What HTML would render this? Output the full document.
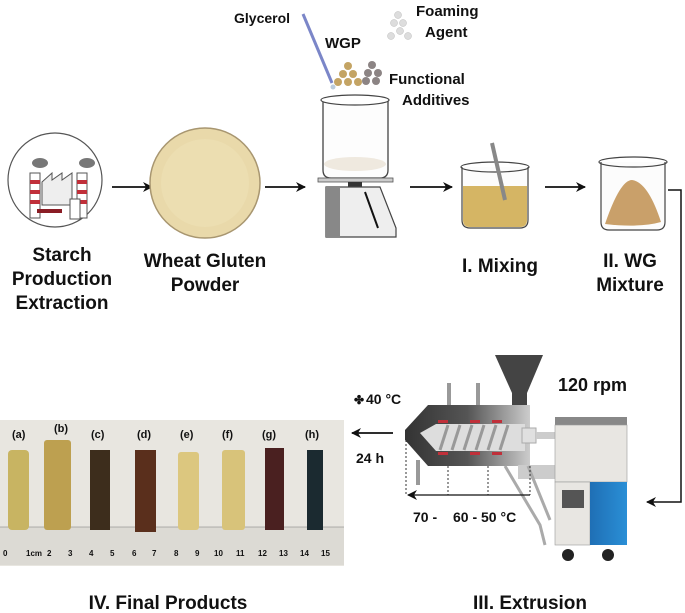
<!DOCTYPE html>
<html><head><meta charset="utf-8"><style>
html,body{margin:0;padding:0;background:#fff}
svg{display:block}
text{font-family:"Liberation Sans",sans-serif;font-weight:bold;fill:#111}
</style></head><body>
<svg width="685" height="613" viewBox="0 0 685 613" xmlns="http://www.w3.org/2000/svg">
<defs>
<marker id="ah" markerWidth="10" markerHeight="10" refX="9" refY="5" orient="auto" markerUnits="userSpaceOnUse"><path d="M0,0 L10,5 L0,10 L3,5 Z" fill="#111"/></marker>
<linearGradient id="barrel" x1="0" y1="0" x2="1" y2="0"><stop offset="0" stop-color="#333"/><stop offset="0.5" stop-color="#555"/><stop offset="1" stop-color="#ccc"/></linearGradient>
<linearGradient id="blue" x1="0" y1="0" x2="1" y2="0"><stop offset="0" stop-color="#1f6fb5"/><stop offset="1" stop-color="#2a8fd6"/></linearGradient>
</defs>

<!-- factory -->
<circle cx="55" cy="180" r="47" fill="#fff" stroke="#555" stroke-width="1.2"/>
<ellipse cx="40" cy="163" rx="8" ry="5" fill="#777"/><ellipse cx="87" cy="163" rx="8" ry="5" fill="#777"/>
<polygon points="42,182 52,173 52,180 62,173 62,180 72,173 72,205 42,205" fill="#eee" stroke="#555"/>
<rect x="30" y="173" width="10" height="45" fill="#fff" stroke="#555"/>
<rect x="30" y="180" width="10" height="4" fill="#c0303a"/><rect x="30" y="190" width="10" height="4" fill="#c0303a"/><rect x="30" y="200" width="10" height="4" fill="#c0303a"/>
<rect x="77" y="173" width="10" height="45" fill="#fff" stroke="#555"/>
<rect x="77" y="180" width="10" height="4" fill="#c0303a"/><rect x="77" y="190" width="10" height="4" fill="#c0303a"/><rect x="77" y="200" width="10" height="4" fill="#c0303a"/>
<rect x="37" y="209" width="25" height="4" fill="#8a1d25"/>
<rect x="70" y="199" width="10" height="20" fill="#fff" stroke="#555"/>

<line x1="112" y1="187" x2="152" y2="187" stroke="#111" stroke-width="1.8" marker-end="url(#ah)"/>

<!-- wheat gluten -->
<circle cx="205" cy="183" r="55" fill="#e9d9aa" stroke="#a89670" stroke-width="1.5"/>
<circle cx="205" cy="183" r="44" fill="#eddfb3" opacity="0.7"/>

<line x1="265" y1="187" x2="305" y2="187" stroke="#111" stroke-width="1.8" marker-end="url(#ah)"/>

<!-- top ingredients -->
<line x1="303" y1="14" x2="332" y2="83" stroke="#7b86c8" stroke-width="3"/>
<circle cx="333" cy="87" r="2.5" fill="#bcd"/>
<g fill="#c4a464"><circle cx="348" cy="66" r="4"/><circle cx="343" cy="74" r="4"/><circle cx="353" cy="74" r="4"/><circle cx="338" cy="82" r="4"/><circle cx="348" cy="82" r="4"/><circle cx="358" cy="82" r="4"/></g>
<g fill="#8c8484"><circle cx="372" cy="65" r="4"/><circle cx="368" cy="73" r="4"/><circle cx="378" cy="73" r="4"/><circle cx="366" cy="81" r="4"/><circle cx="376" cy="81" r="4"/></g>
<g fill="#ddd" stroke="#bbb" stroke-width="0.5"><circle cx="398" cy="15" r="3.5"/><circle cx="394" cy="23" r="3.5"/><circle cx="403" cy="23" r="3.5"/><circle cx="400" cy="31" r="3.5"/><circle cx="391" cy="36" r="3.5"/><circle cx="408" cy="36" r="3.5"/></g>
<text x="234" y="23" font-size="14">Glycerol</text>
<text x="325" y="48" font-size="15">WGP</text>
<text x="416" y="16" font-size="15">Foaming</text>
<text x="425" y="37" font-size="15">Agent</text>
<text x="389" y="84" font-size="15">Functional</text>
<text x="402" y="105" font-size="15">Additives</text>

<!-- beaker on scale -->
<path d="M323,100 L323,170 Q323,178 331,178 L380,178 Q388,178 388,170 L388,100" fill="#fdfdfd" stroke="#444" stroke-width="1.3"/>
<ellipse cx="355" cy="100" rx="34" ry="5" fill="#fff" stroke="#444" stroke-width="1.2"/>
<ellipse cx="355" cy="164" rx="31" ry="7" fill="#efe9df"/>
<rect x="318" y="178" width="75" height="4" fill="#ccc" stroke="#555" stroke-width="0.8"/>
<rect x="348" y="182" width="14" height="5" fill="#333"/>
<path d="M326,187 L380,187 L396,228 L396,237 L326,237 Z" fill="#eee" stroke="#444" stroke-width="1.2"/>
<rect x="326" y="187" width="14" height="50" fill="#888"/>
<line x1="365" y1="192" x2="378" y2="228" stroke="#111" stroke-width="2"/>

<line x1="410" y1="187" x2="452" y2="187" stroke="#111" stroke-width="1.8" marker-end="url(#ah)"/>

<!-- mixing beaker -->
<path d="M462,167 L462,220 Q462,228 470,228 L520,228 Q528,228 528,220 L528,167" fill="#fcfcfc" stroke="#444" stroke-width="1.2"/>
<path d="M463,186 L527,186 L527,220 Q527,227 520,227 L470,227 Q463,227 463,220 Z" fill="#d5b564"/>
<ellipse cx="495" cy="167" rx="34" ry="5" fill="none" stroke="#444" stroke-width="1.2"/>
<line x1="492" y1="143" x2="505" y2="200" stroke="#888" stroke-width="4"/>

<line x1="545" y1="187" x2="585" y2="187" stroke="#111" stroke-width="1.8" marker-end="url(#ah)"/>

<!-- WG mixture beaker -->
<path d="M601,162 L601,222 Q601,230 609,230 L657,230 Q665,230 665,222 L665,162" fill="#fcfcfc" stroke="#444" stroke-width="1.2"/>
<path d="M605,224 Q620,180 632,180 Q648,182 661,222 Q640,228 605,224 Z" fill="#c9a06a"/>
<ellipse cx="633" cy="162" rx="34" ry="5" fill="none" stroke="#444" stroke-width="1.2"/>

<!-- labels -->
<g font-size="19" text-anchor="middle">
<text x="62" y="261">Starch</text>
<text x="62" y="285">Production</text>
<text x="62" y="309">Extraction</text>
<text x="205" y="267">Wheat Gluten</text>
<text x="205" y="291">Powder</text>
<text x="500" y="272">I. Mixing</text>
<text x="630" y="267">II. WG</text>
<text x="630" y="291">Mixture</text>
<text x="168" y="609">IV. Final Products</text>
<text x="530" y="609">III. Extrusion</text>
</g>

<!-- right connector -->
<polyline points="668,190 681,190 681,502 647,502" fill="none" stroke="#111" stroke-width="1.5" marker-end="url(#ah)"/>

<!-- extruder -->
<polygon points="495,355 543,355 527,393 512,393" fill="#444"/>
<rect x="512" y="393" width="15" height="14" fill="#444"/>
<rect x="447" y="383" width="4" height="22" fill="#999"/><rect x="476" y="383" width="4" height="22" fill="#999"/>
<polygon points="428,405 530,405 530,466 428,466 405,440 405,430" fill="url(#barrel)"/>
<polygon points="420,433 436,424 525,424 525,451 436,451" fill="#ddd"/>
<g stroke="#999" stroke-width="3"><line x1="440" y1="450" x2="448" y2="425"/><line x1="452" y1="450" x2="460" y2="425"/><line x1="464" y1="450" x2="472" y2="425"/><line x1="476" y1="450" x2="484" y2="425"/><line x1="488" y1="450" x2="496" y2="425"/><line x1="500" y1="450" x2="508" y2="425"/></g>
<g fill="#c0303a"><rect x="438" y="420" width="10" height="3"/><rect x="470" y="420" width="10" height="3"/><rect x="492" y="420" width="10" height="3"/><rect x="438" y="452" width="10" height="3"/><rect x="470" y="452" width="10" height="3"/><rect x="492" y="452" width="10" height="3"/></g>
<rect x="522" y="428" width="14" height="15" fill="#e0e0e0" stroke="#aaa"/>
<rect x="536" y="432" width="20" height="7" fill="#ccc"/>
<rect x="518" y="465" width="38" height="14" fill="#ccc"/>
<rect x="416" y="460" width="4" height="25" fill="#999"/>
<path d="M505,466 L540,525 L545,545 M528,466 L550,520" stroke="#aaa" stroke-width="3" fill="none"/>
<g stroke="#333" stroke-width="1" stroke-dasharray="2,2"><line x1="406" y1="440" x2="406" y2="495"/><line x1="448" y1="466" x2="448" y2="495"/><line x1="488" y1="466" x2="488" y2="495"/><line x1="530" y1="466" x2="530" y2="495"/></g>
<line x1="530" y1="495" x2="408" y2="495" stroke="#111" stroke-width="1.2" marker-end="url(#ah)"/>
<rect x="555" y="417" width="72" height="8" fill="#888"/>
<rect x="555" y="425" width="72" height="57" fill="#e8e6e2" stroke="#999" stroke-width="0.6"/>
<rect x="555" y="482" width="35" height="63" fill="#e8e6e2" stroke="#999" stroke-width="0.6"/>
<rect x="590" y="482" width="37" height="63" fill="url(#blue)"/>
<rect x="562" y="490" width="22" height="18" fill="#555"/>
<circle cx="568" cy="555" r="6" fill="#222"/><circle cx="608" cy="555" r="6" fill="#222"/>
<text x="558" y="391" font-size="18">120 rpm</text>
<text x="366" y="404" font-size="14">40 °C</text>
<text x="354" y="404" font-size="12">✤</text>
<text x="356" y="463" font-size="14">24 h</text>
<line x1="393" y1="433" x2="352" y2="433" stroke="#111" stroke-width="1.8" marker-end="url(#ah)"/>
<text x="413" y="522" font-size="14">70 -</text>
<text x="453" y="522" font-size="14">60 - 50 °C</text>

<!-- final products photo -->
<rect x="0" y="420" width="344" height="146" fill="#e8e6e0"/>
<rect x="0" y="527" width="344" height="38" fill="#dcdad4"/>
<line x1="0" y1="527" x2="344" y2="527" stroke="#777" stroke-width="0.6"/>
<g fill="#c8b462"><rect x="8" y="450" width="21" height="80" rx="4"/><rect x="44" y="440" width="27" height="90" rx="3" fill="#bda050"/><rect x="178" y="452" width="21" height="78" rx="3" fill="#dcc77f"/><rect x="222" y="450" width="23" height="80" rx="3" fill="#d8c37a"/></g>
<rect x="90" y="450" width="20" height="80" fill="#3d2d1c"/>
<rect x="135" y="450" width="21" height="82" fill="#5a2f1c"/>
<rect x="265" y="448" width="19" height="82" fill="#4a2020"/>
<rect x="307" y="450" width="16" height="80" fill="#1b2a30"/>
<g font-size="11" font-weight="bold">
<text x="12" y="438">(a)</text><text x="54" y="432">(b)</text><text x="91" y="438">(c)</text><text x="137" y="438">(d)</text><text x="180" y="438">(e)</text><text x="222" y="438">(f)</text><text x="262" y="438">(g)</text><text x="305" y="438">(h)</text>
</g>
<g font-size="8" fill="#333">
<text x="3" y="556">0</text><text x="26" y="556">1cm</text><text x="47" y="556">2</text><text x="68" y="556">3</text><text x="89" y="556">4</text><text x="110" y="556">5</text><text x="132" y="556">6</text><text x="152" y="556">7</text><text x="174" y="556">8</text><text x="195" y="556">9</text><text x="214" y="556">10</text><text x="236" y="556">11</text><text x="258" y="556">12</text><text x="279" y="556">13</text><text x="300" y="556">14</text><text x="321" y="556">15</text>
</g>
</svg>
</body></html>
